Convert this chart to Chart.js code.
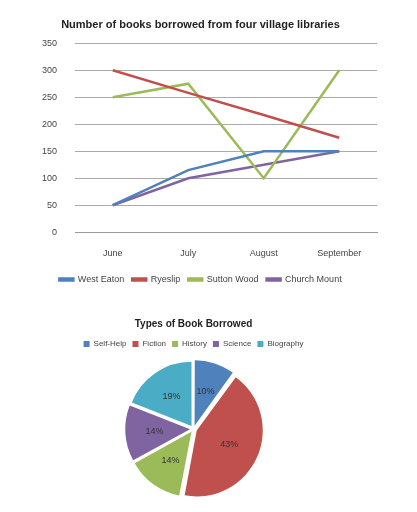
<!DOCTYPE html>
<html><head><meta charset="utf-8">
<script src="https://cdn.jsdelivr.net/npm/chart.js@4"></script>
<style>body{margin:0;background:#fff;width:417px;height:512px;position:relative;overflow:hidden}
#a{position:absolute;left:0;top:0}#b{position:absolute;left:0;top:308px}</style></head>
<body><div id="a" style="width:417px;height:294px"><canvas id="c1"></canvas></div>
<div id="b" style="width:417px;height:204px"><canvas id="c2"></canvas></div>
<script>
const months=['June','July','August','September'];
const westEaton=[50,115,150,150];
const ryeslip=[300,258,217,175];
const suttonWood=[250,275,100,300];
const churchMount=[50,100,125,150];
const yTicks=[0,50,100,150,200,250,300,350];
const types=['Self-Help','Fiction','History','Science','Biography'];
const typeShares=[10,43,14,14,19];
const font='"Liberation Sans", Arial, sans-serif';
Chart.defaults.font.family=font;
Chart.defaults.color='#444';
const ds=(l,d,c)=>({label:l,data:d,borderColor:c,backgroundColor:c,borderWidth:2.5,pointRadius:0,tension:0,fill:false});
new Chart(document.getElementById('c1'),{type:'line',
data:{labels:months,datasets:[ds('West Eaton',westEaton,'#4F81BD'),ds('Ryeslip',ryeslip,'#C0504D'),ds('Sutton Wood',suttonWood,'#9BBB59'),ds('Church Mount',churchMount,'#8064A2')]},
options:{responsive:true,maintainAspectRatio:false,animation:false,
layout:{padding:{left:24,right:40,top:4,bottom:0}},
plugins:{title:{display:true,text:'Number of books borrowed from four village libraries',font:{size:11,weight:'bold'},color:'#222',padding:{top:14,bottom:12}},
legend:{position:'bottom',labels:{boxWidth:14,boxHeight:2,font:{size:9},padding:8}},tooltip:{enabled:false}},
scales:{x:{offset:true,grid:{display:false},border:{color:'#999'},ticks:{font:{size:9},padding:8}},
y:{min:0,max:350,afterBuildTicks:s=>{s.ticks=yTicks.map(v=>({value:v}))},grid:{color:'#aaa',drawTicks:false},border:{display:false},ticks:{font:{size:9},padding:18}}}}});
const lbl={id:'lbl',afterDatasetsDraw(ch){const c=ch.ctx;const m=ch.getDatasetMeta(0);c.save();c.font='9px '+font;c.textAlign='center';c.textBaseline='middle';
m.data.forEach((a,i)=>{const p=a.tooltipPosition();c.fillStyle='#333';c.fillText(typeShares[i]+'%',p.x,p.y);});c.restore();}};
new Chart(document.getElementById('c2'),{type:'pie',
data:{labels:types,datasets:[{data:typeShares,backgroundColor:['#4F81BD','#C0504D','#9BBB59','#8064A2','#4BACC6'],borderWidth:0,offset:14}]},
options:{responsive:true,maintainAspectRatio:false,animation:false,
layout:{padding:{left:0,right:30,top:4,bottom:12}},
plugins:{title:{display:true,text:'Types of Book Borrowed',font:{size:10,weight:'bold'},color:'#222',padding:{top:6,bottom:4}},
legend:{position:'top',labels:{boxWidth:6,boxHeight:6,font:{size:8},padding:6}},tooltip:{enabled:false}}},plugins:[lbl]});
</script></body></html>
